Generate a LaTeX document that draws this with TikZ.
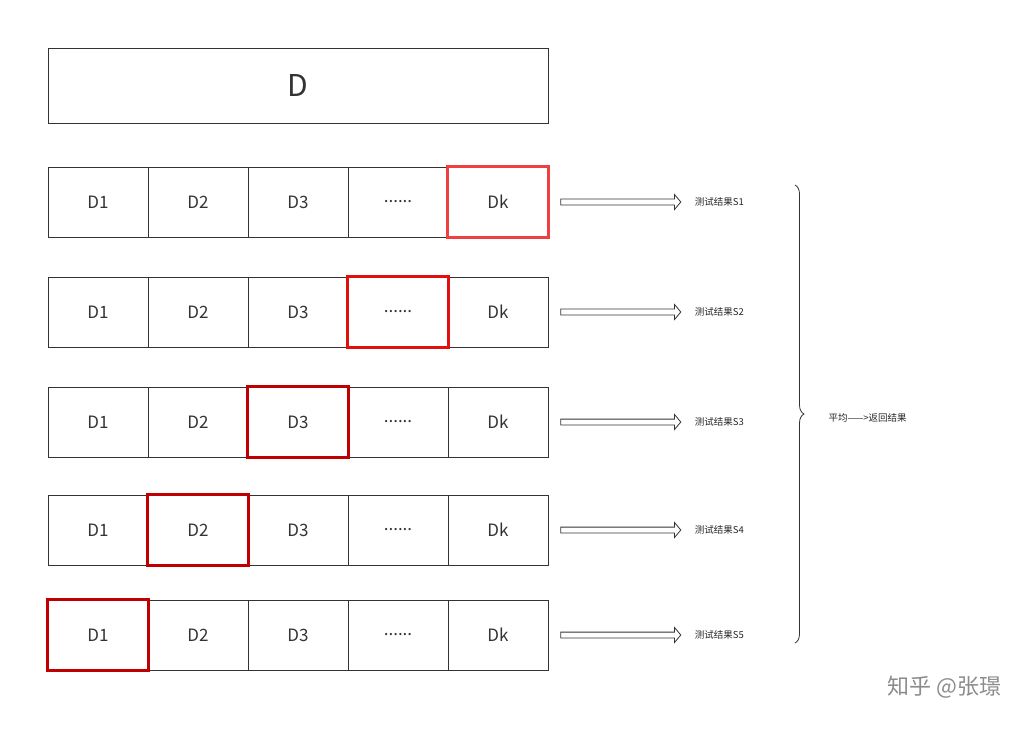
\documentclass[tikz,border=0pt]{standalone}
\usepackage{fontspec}
\setmainfont{Noto Sans CJK SC}
\usetikzlibrary{positioning,shapes.arrows,decorations.pathreplacing}
\definecolor{hlA}{HTML}{EE4040}
\definecolor{hlB}{HTML}{E01010}
\definecolor{hlC}{HTML}{C00000}
\newcommand\sixdots{......}
\tikzset{
 cell/.style={draw=black!80, thick, minimum width=100pt, minimum height=70pt, inner sep=0pt, font=\fontsize{17}{17}\selectfont, text=black!80},
 hl/.style={draw=#1, line width=3.5pt},
 result/.style={single arrow, draw=black!80, thick, minimum height=120pt, minimum width=15pt, single arrow head extend=3pt, single arrow tip angle=100, inner sep=1.5pt},
 lbl/.style={font=\fontsize{9.5}{10}\selectfont, text=black!85, anchor=west},
}
\begin{document}
\begin{tikzpicture}[x=1pt,y=-1pt]
 \useasboundingbox (0,0) rectangle (1029,732);
 \fill[white] (0,0) rectangle (1029,732);
 % whole data set
 \node[cell, minimum width=500pt, minimum height=75pt, font=\fontsize{30}{30}\selectfont] (D) at (298,85.5) {D};
 % folds
 \foreach \r/\y/\h/\c in {1/202/5/hlA, 2/312/4/hlB, 3/422/3/hlC, 4/530/2/hlC, 5/635/1/hlC}{
  \foreach \i/\t in {1/D1, 2/D2, 3/D3, 4/\sixdots, 5/Dk}{
   \node[cell] (c\r\i) at ({48+100*\i-50},\y) {\t};
  }
  \draw[hl=\c] (c\r\h.north west) rectangle (c\r\h.south east);
  \node[result, right=12pt of c\r5, anchor=west, minimum height=120pt] (a\r) {};
  \node[lbl, right=10pt of a\r.east] (s\r) {测试结果S\r};
 }
 % average
 \coordinate (btop) at (795,185);
 \coordinate (bbot) at (795,643);
 \draw[thick, black!80, decorate, decoration={brace, amplitude=9pt}] (btop) -- (bbot);
 \node[lbl] (avg) at (825,418) {平均——>返回结果};
 \node[text=black!45, font=\fontsize{22}{22}\selectfont, anchor=east] (mark) at (1005,687) {知乎 @张璟};
\end{tikzpicture}
\end{document}
